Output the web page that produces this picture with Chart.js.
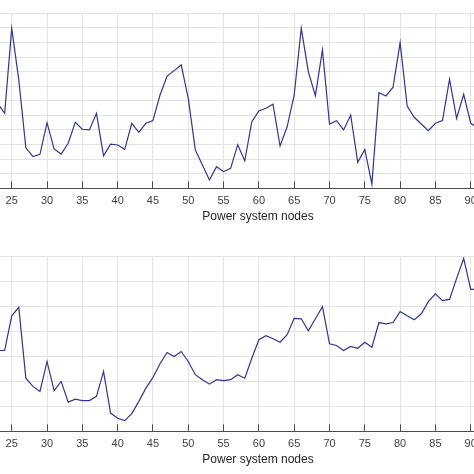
<!DOCTYPE html>
<html>
<head>
<meta charset="utf-8">
<script src="https://cdn.jsdelivr.net/npm/chart.js@4/dist/chart.umd.min.js"></script>
<style>
  html, body { margin: 0; padding: 0; background: #fff; overflow: hidden; width: 474px; height: 474px; }
  .box { position: absolute; left: -20px; width: 580px; height: 240px; }
</style>
</head>
<body>
<div class="box" style="top:0px"><canvas id="topChart"></canvas></div>
<div class="box" style="top:243px"><canvas id="bottomChart"></canvas></div>
<script>
// node numbers visible in the crop
const nodes = [23, 24, 25, 26, 27, 28, 29, 30, 31, 32, 33, 34, 35, 36, 37, 38, 39, 40,
  41, 42, 43, 44, 45, 46, 47, 48, 49, 50, 51, 52, 53, 54, 55, 56, 57, 58, 59, 60,
  61, 62, 63, 64, 65, 66, 67, 68, 69, 70, 71, 72, 73, 74, 75, 76, 77, 78, 79, 80,
  81, 82, 83, 84, 85, 86, 87, 88, 89, 90, 91];

// upper panel (y labels are cropped, values in grid units)
const upperValues = [5.83, 5.14, 10.97, 7.43, 2.78, 2.17, 2.33, 4.50, 2.70, 2.35,
  3.09, 4.53, 4.05, 4.00, 5.14, 2.22, 3.02, 2.97, 2.67, 4.46, 3.84, 4.46, 4.64,
  6.40, 7.70, 8.07, 8.46, 6.17, 2.63, 1.60, 0.57, 1.48, 1.14, 1.37, 2.99, 1.89,
  4.57, 5.30, 5.49, 5.76, 2.90, 4.22, 6.40, 10.97, 8.00, 6.35, 9.49, 4.41, 4.64,
  4.00, 5.03, 1.78, 2.67, 0.29, 6.56, 6.33, 6.93, 9.99, 5.64, 4.87, 4.41, 3.95,
  4.46, 4.64, 7.48, 4.80, 6.45, 4.46, 4.14];

// lower panel
const lowerValues = [3.24, 3.24, 4.63, 4.97, 2.13, 1.80, 1.60, 2.80, 1.63, 2.00,
  1.17, 1.29, 1.23, 1.23, 1.40, 2.40, 0.73, 0.52, 0.43, 0.71, 1.20, 1.73, 2.16,
  2.71, 3.16, 3.00, 3.20, 2.80, 2.27, 2.07, 1.89, 2.07, 2.03, 2.07, 2.27, 2.13,
  2.93, 3.67, 3.83, 3.71, 3.57, 3.87, 4.53, 4.51, 4.03, 4.51, 5.00, 3.51, 3.44,
  3.24, 3.40, 3.33, 3.57, 3.37, 4.36, 4.31, 4.36, 4.80, 4.63, 4.47, 4.71, 5.20,
  5.51, 5.24, 5.29, 6.13, 6.93, 5.69, 5.69];

const xTitle = 'Power system nodes';
const xMin = 23.34;
const xMax = 96.41;

Chart.defaults.font.family = '"Liberation Sans", Arial, sans-serif';

function makeChart(id, values, yMax, padTop) {
    const ctx = document.getElementById(id).getContext('2d');
    return new Chart(ctx, {
        type: 'line',
        data: {
            datasets: [{
                data: nodes.map((n, i) => ({ x: n, y: values[i] })),
                borderColor: '#34348f',
                borderWidth: 1.2,
                pointRadius: 0,
                tension: 0,
                fill: false
            }]
        },
        options: {
            responsive: true,
            maintainAspectRatio: false,
            devicePixelRatio: 1,
            animation: false,
            // left padding sits off-screen so the plot area starts at the window edge
            layout: { padding: { top: padTop, left: 20, right: 44, bottom: 0 } },
            plugins: { legend: { display: false }, tooltip: { enabled: false } },
            scales: {
                x: {
                    type: 'linear',
                    min: xMin,
                    max: xMax,
                    afterFit: s => { s.height = 51.7; },
                    ticks: {
                        stepSize: 5,
                        includeBounds: false,
                        padding: 12.6,
                        color: '#404040',
                        font: { size: 11 },
                        maxRotation: 0,
                        autoSkip: false
                    },
                    grid: {
                        color: '#e3e3e3',
                        drawTicks: true,
                        tickLength: -7,
                        tickColor: '#4d4d4d'
                    },
                    border: { display: true, color: '#4d4d4d', width: 1 },
                    title: {
                        display: true,
                        text: xTitle,
                        color: '#262626',
                        font: { size: 12 },
                        padding: { top: 0, bottom: 15.8 }
                    }
                },
                y: {
                    min: 0,
                    max: yMax,
                    afterFit: s => { s.width = 0; },
                    ticks: { display: false, stepSize: 1 },
                    grid: { color: '#e3e3e3', drawTicks: false },
                    border: { display: false }
                }
            }
        }
    });
}

makeChart('topChart', upperValues, 12, 13.3);
makeChart('bottomChart', lowerValues, 7, 13.7);
</script>
</body>
</html>
